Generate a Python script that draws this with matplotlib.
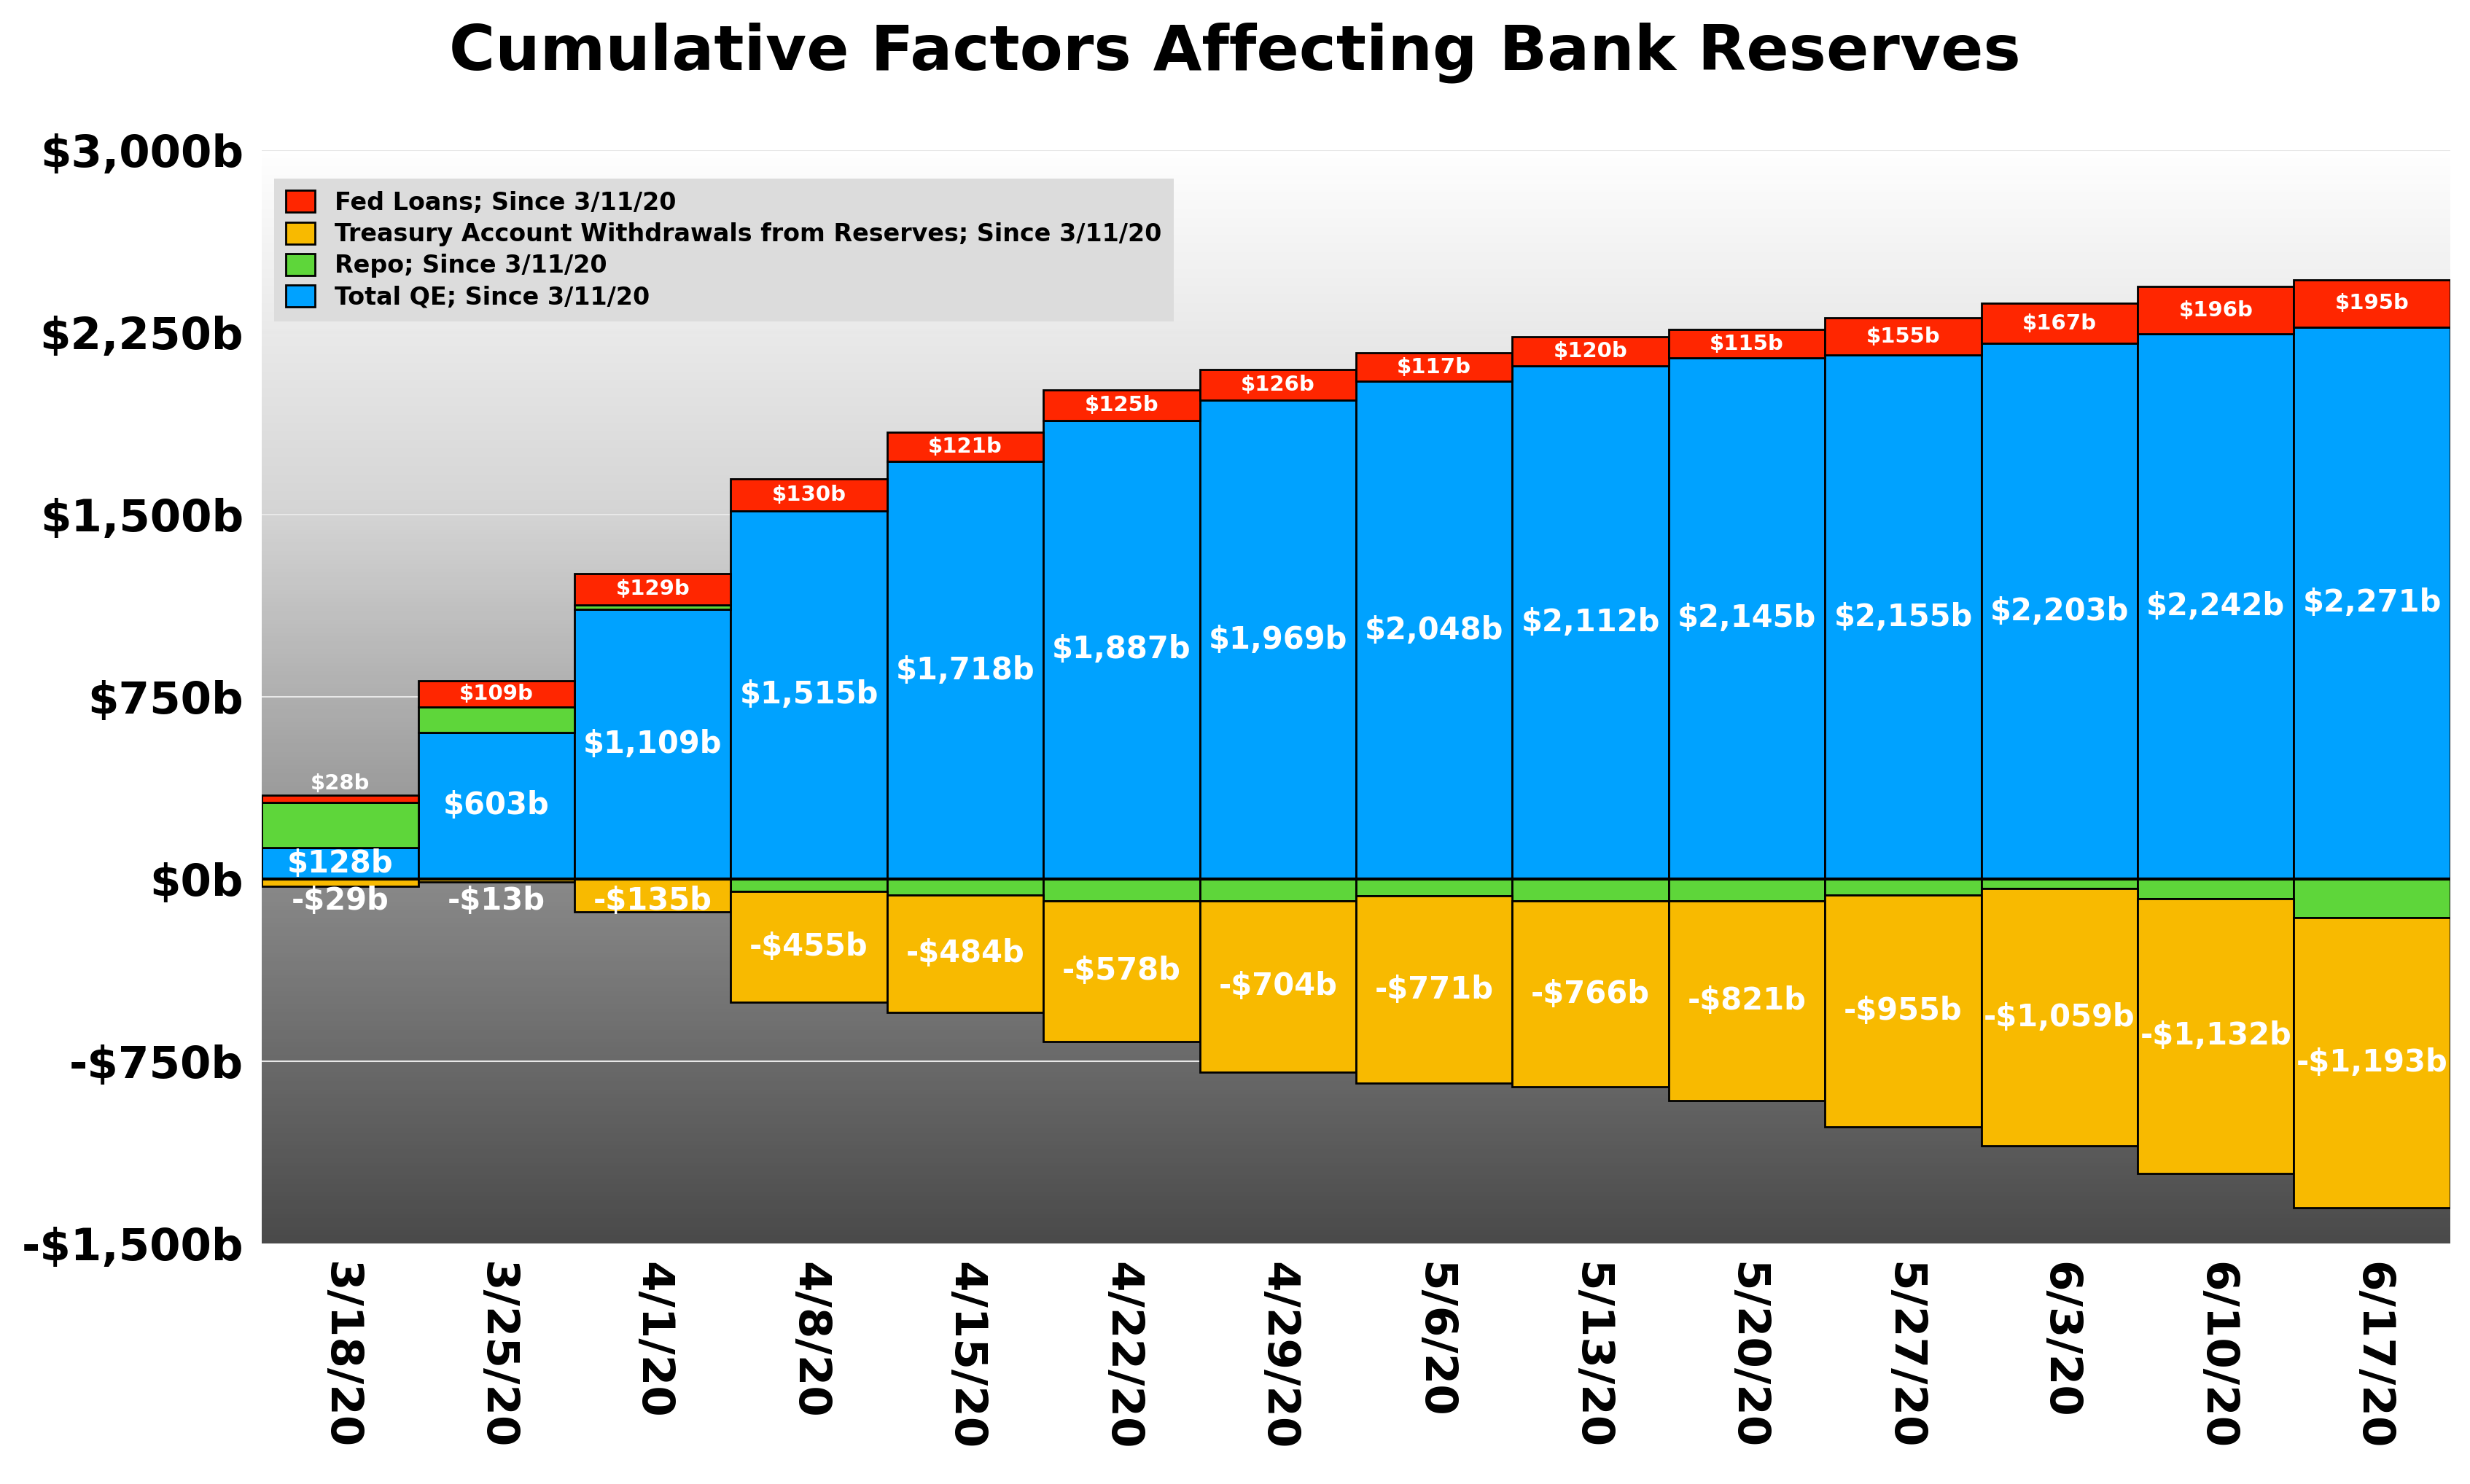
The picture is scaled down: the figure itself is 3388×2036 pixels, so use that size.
import matplotlib
matplotlib.use("Agg")
import matplotlib.pyplot as plt
import numpy as np
from matplotlib.colors import LinearSegmentedColormap

dates = ["3/18/20","3/25/20","4/1/20","4/8/20","4/15/20","4/22/20","4/29/20","5/6/20","5/13/20","5/20/20","5/27/20","6/3/20","6/10/20","6/17/20"]
qe = [128,603,1109,1515,1718,1887,1969,2048,2112,2145,2155,2203,2242,2271]
repo = [188,105,20,-52,-65,-90,-90,-70,-90,-90,-65,-40,-80,-160]
treasury = [-29,-13,-135,-455,-484,-578,-704,-771,-766,-821,-955,-1059,-1132,-1193]
loans = [28,109,129,130,121,125,126,117,120,115,155,167,196,195]

plt.rcParams['font.family'] = ['DejaVu Sans']
plt.rcParams['font.weight'] = 'bold'

fig = plt.figure(figsize=(33.88, 20.36), dpi=100)
ax = fig.add_axes([0.106, 0.162, 0.886, 0.737])
x = np.arange(len(dates))
qe_a = np.array(qe); repo_a = np.array(repo); tr_a = np.array(treasury); ln_a = np.array(loans)

ax.set_xlim(-0.5, len(dates) - 0.5)
ax.set_ylim(-1500, 3000)
grad = np.linspace(1, 0, 256).reshape(-1, 1)
cm = LinearSegmentedColormap.from_list("g", ["#ffffff", "#d4d4d4", "#8a8a8a", "#4a4a4a"])
ax.imshow(grad, extent=[-0.5, len(dates)-0.5, -1500, 3000], aspect='auto', cmap=cm.reversed(), zorder=0)
for v in [-750, 0, 750, 1500, 2250, 3000]:
    ax.axhline(v, color='#e8e8e8', lw=1.5, zorder=1)

kw = dict(width=1.0, edgecolor='black', linewidth=2, zorder=2)
ax.bar(x, qe_a, color='#00a2ff', label='Total QE; Since 3/11/20', **kw)
repo_bottom = np.where(repo_a > 0, qe_a, 0)
ax.bar(x, repo_a, bottom=repo_bottom, color='#5ed63a', label='Repo; Since 3/11/20', **kw)
tr_bottom = np.where(repo_a < 0, repo_a, 0)
ax.bar(x, tr_a, bottom=tr_bottom, color='#f8ba00', label='Treasury Account Withdrawals from Reserves; Since 3/11/20', **kw)
ln_bottom = qe_a + np.where(repo_a > 0, repo_a, 0)
ax.bar(x, ln_a, bottom=ln_bottom, color='#ff2600', label='Fed Loans; Since 3/11/20', **kw)
ax.axhline(0, color='black', lw=3, zorder=3)

for i in range(len(x)):
    ax.text(x[i], qe_a[i] / 2, f"${qe_a[i]:,}b", ha='center', va='center', color='white', fontsize=30, fontweight='bold', zorder=4)
    c = tr_bottom[i] + tr_a[i] / 2
    c = min(c, -90)
    ax.text(x[i], c, f"-${-tr_a[i]:,}b", ha='center', va='center', color='white', fontsize=30, fontweight='bold', zorder=4)
    yl = ln_bottom[i] + ln_a[i] / 2
    if ln_a[i] < 60:
        yl = ln_bottom[i] + ln_a[i] + 50
    ax.text(x[i], yl, f"${ln_a[i]}b", ha='center', va='center', color='white', fontsize=21, fontweight='bold', zorder=4)

ax.set_yticks([-1500, -750, 0, 750, 1500, 2250, 3000])
ax.set_yticklabels(["-$1,500b", "-$750b", "$0b", "$750b", "$1,500b", "$2,250b", "$3,000b"], fontsize=44, fontweight='bold')
ax.set_xticks(x)
ax.set_xticklabels(dates, rotation=-90, fontsize=44, fontweight='bold')
ax.tick_params(length=0, pad=18)
for s in ax.spines.values():
    s.set_visible(False)

h, l = ax.get_legend_handles_labels()
order = [3, 2, 1, 0]
leg = ax.legend([h[i] for i in order], [l[i] for i in order], loc='upper left', bbox_to_anchor=(0.0, 0.985),
                fontsize=24, frameon=True, fancybox=False, framealpha=1, facecolor='#dcdcdc', edgecolor='none',
                handlelength=1.2, handleheight=1.0, labelspacing=0.3, borderpad=0.5)
for t in leg.get_texts():
    t.set_fontweight('bold')

fig.suptitle("Cumulative Factors Affecting Bank Reserves", fontsize=62, fontweight='bold', y=0.985)
fig.savefig("out.png", dpi=100, facecolor='white')
